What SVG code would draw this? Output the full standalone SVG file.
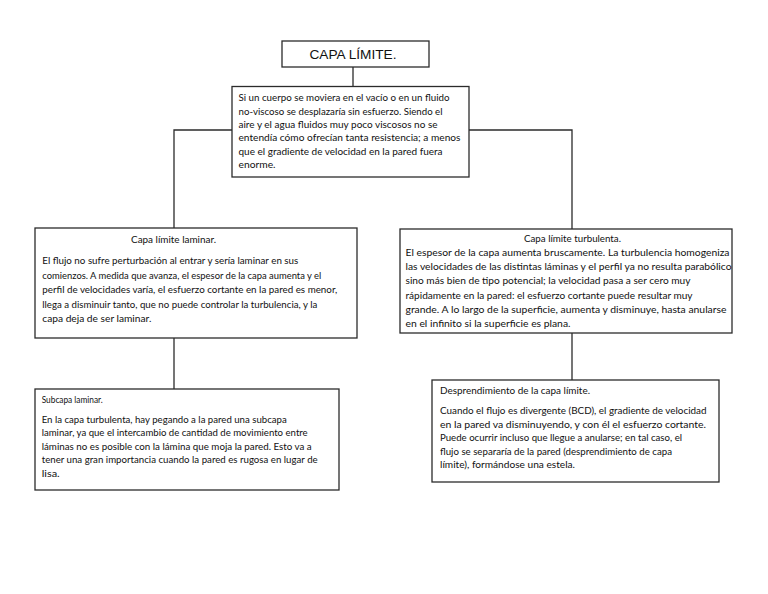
<svg xmlns="http://www.w3.org/2000/svg" width="768" height="594" viewBox="0 0 768 594">
<style>
.box{fill:#fff;stroke:#2b2b2b;stroke-width:1.3}
.ln{fill:none;stroke:#2b2b2b;stroke-width:1.3}
.t{font-family:Lato,"Liberation Sans",sans-serif;font-size:9px;fill:#111}
.h{font-family:"Liberation Sans",Arial,sans-serif;font-size:13.5px;fill:#111}
</style>
<rect width="768" height="594" fill="#fff"/>
<g id="connectors">
<path class="ln" d="M353 67V86.5"/>
<path class="ln" d="M232 130H174V228"/>
<path class="ln" d="M469 130H572V229"/>
<path class="ln" d="M174 338V389"/>
<path class="ln" d="M572 333V380"/>
</g>
<g id="title">
<rect class="box" x="282" y="41" width="147" height="26"/>
<text class="h" x="353" y="58.5" text-anchor="middle" textLength="87" lengthAdjust="spacingAndGlyphs">CAPA LÍMITE.</text>
</g>
<g id="intro">
<rect class="box" x="232" y="86.5" width="237" height="90.5"/>
<text class="t" x="238.5" y="101.3" textLength="211" lengthAdjust="spacingAndGlyphs">Si un cuerpo se moviera en el vacío o en un fluido</text>
<text class="t" x="238.5" y="114.6" textLength="204" lengthAdjust="spacingAndGlyphs">no-viscoso se desplazaría sin esfuerzo. Siendo el</text>
<text class="t" x="238.5" y="127.9" textLength="199" lengthAdjust="spacingAndGlyphs">aire y el agua fluidos muy poco viscosos no se</text>
<text class="t" x="238.5" y="141.2" textLength="222" lengthAdjust="spacingAndGlyphs">entendía cómo ofrecían tanta resistencia; a menos</text>
<text class="t" x="238.5" y="154.5" textLength="204" lengthAdjust="spacingAndGlyphs">que el gradiente de velocidad en la pared fuera</text>
<text class="t" x="238.5" y="167.8" textLength="37" lengthAdjust="spacingAndGlyphs">enorme.</text>
</g>
<g id="laminar">
<rect class="box" x="35" y="228" width="322" height="110"/>
<text class="t" x="131" y="243" textLength="85" lengthAdjust="spacingAndGlyphs">Capa límite laminar.</text>
<text class="t" x="42.3" y="264" textLength="256" lengthAdjust="spacingAndGlyphs">El flujo no sufre perturbación al entrar y sería laminar en sus</text>
<text class="t" x="42.3" y="278.6" textLength="279" lengthAdjust="spacingAndGlyphs">comienzos. A medida que avanza, el espesor de la capa aumenta y el</text>
<text class="t" x="42.3" y="293.2" textLength="295" lengthAdjust="spacingAndGlyphs">perfil de velocidades varía, el esfuerzo cortante en la pared es menor,</text>
<text class="t" x="42.3" y="307.8" textLength="275" lengthAdjust="spacingAndGlyphs">llega a disminuir tanto, que no puede controlar la turbulencia, y la</text>
<text class="t" x="42.3" y="322.4" textLength="109" lengthAdjust="spacingAndGlyphs">capa deja de ser laminar.</text>
</g>
<g id="turbulenta">
<rect class="box" x="400" y="229" width="332" height="104"/>
<text class="t" x="524" y="241.5" textLength="97" lengthAdjust="spacingAndGlyphs">Capa límite turbulenta.</text>
<text class="t" x="405.5" y="256" textLength="324" lengthAdjust="spacingAndGlyphs">El espesor de la capa aumenta bruscamente. La turbulencia homogeniza</text>
<text class="t" x="405.5" y="270.2" textLength="326" lengthAdjust="spacingAndGlyphs">las velocidades de las distintas láminas y el perfil ya no resulta parabólico</text>
<text class="t" x="405.5" y="284.4" textLength="285" lengthAdjust="spacingAndGlyphs">sino más bien de tipo potencial; la velocidad pasa a ser cero muy</text>
<text class="t" x="405.5" y="298.6" textLength="287" lengthAdjust="spacingAndGlyphs">rápidamente en la pared: el esfuerzo cortante puede resultar muy</text>
<text class="t" x="405.5" y="312.8" textLength="321" lengthAdjust="spacingAndGlyphs">grande. A lo largo de la superficie, aumenta y disminuye, hasta anularse</text>
<text class="t" x="405.5" y="327" textLength="165" lengthAdjust="spacingAndGlyphs">en el infinito si la superficie es plana.</text>
</g>
<g id="subcapa">
<rect class="box" x="35" y="389" width="304" height="101"/>
<text class="t" x="41.7" y="402.5" style="font-size:8.6px" textLength="61" lengthAdjust="spacingAndGlyphs">Subcapa laminar.</text>
<text class="t" x="41.7" y="422.5" textLength="245" lengthAdjust="spacingAndGlyphs">En la capa turbulenta, hay pegando a la pared una subcapa</text>
<text class="t" x="41.7" y="436" textLength="266" lengthAdjust="spacingAndGlyphs">laminar, ya que el intercambio de cantidad de movimiento entre</text>
<text class="t" x="41.7" y="449.5" textLength="270" lengthAdjust="spacingAndGlyphs">láminas no es posible con la lámina que moja la pared. Esto va a</text>
<text class="t" x="41.7" y="463" textLength="276" lengthAdjust="spacingAndGlyphs">tener una gran importancia cuando la pared es rugosa en lugar de</text>
<text class="t" x="41.7" y="476.5" textLength="18" lengthAdjust="spacingAndGlyphs">lisa.</text>
</g>
<g id="desprendimiento">
<rect class="box" x="432" y="380" width="287" height="102"/>
<text class="t" x="440" y="394" textLength="150" lengthAdjust="spacingAndGlyphs">Desprendimiento de la capa límite.</text>
<text class="t" x="440" y="414.3" textLength="266.5" lengthAdjust="spacingAndGlyphs">Cuando el flujo es divergente (BCD), el gradiente de velocidad</text>
<text class="t" x="440" y="427.7" textLength="266" lengthAdjust="spacingAndGlyphs">en la pared va disminuyendo, y con él el esfuerzo cortante.</text>
<text class="t" x="440" y="441.1" textLength="242" lengthAdjust="spacingAndGlyphs">Puede ocurrir incluso que llegue a anularse; en tal caso, el</text>
<text class="t" x="440" y="454.5" textLength="232" lengthAdjust="spacingAndGlyphs">flujo se separaría de la pared (desprendimiento de capa</text>
<text class="t" x="440" y="467.9" textLength="135" lengthAdjust="spacingAndGlyphs">límite), formándose una estela.</text>
</g>
</svg>
